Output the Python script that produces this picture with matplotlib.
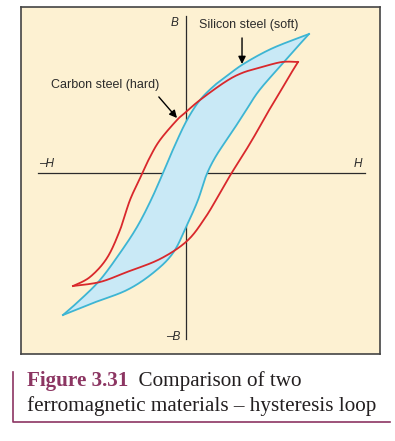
import matplotlib
matplotlib.use("Agg")
import matplotlib.pyplot as plt
import numpy as np

# silicon steel (soft) loop, H and B in arbitrary units
si_upper_H = [1.23, 0.87, 0.59, 0.42, 0.29, 0.14, 0.01, -0.11, -0.23, -0.35, -0.49, -0.66, -0.86, -1.06, -1.23]
si_upper_B = [1.39, 1.25, 1.10, 0.98, 0.88, 0.73, 0.53, 0.28, 0.00, -0.27, -0.54, -0.80, -1.07, -1.27, -1.42]
si_lower_H = [-1.23, -0.93, -0.59, -0.33, -0.13, 0.01, 0.12, 0.20, 0.30, 0.46, 0.59, 0.72, 0.89, 1.04, 1.23]
si_lower_B = [-1.42, -1.30, -1.17, -1.00, -0.80, -0.52, -0.27, -0.03, 0.17, 0.41, 0.61, 0.81, 1.01, 1.18, 1.39]

# carbon steel (hard) loop
c_upper_H = [1.12, 0.96, 0.76, 0.56, 0.39, 0.14, 0.00, -0.09, -0.26, -0.36, -0.44, -0.56, -0.66, -0.79, -0.96, -1.13]
c_upper_B = [1.11, 1.11, 1.06, 1.00, 0.91, 0.73, 0.61, 0.53, 0.33, 0.16, -0.01, -0.27, -0.57, -0.85, -1.04, -1.13]
c_lower_H = [-1.13, -0.86, -0.59, -0.26, 0.01, 0.19, 0.34, 0.45, 0.57, 0.69, 0.82, 0.94, 1.04, 1.12]
c_lower_B = [-1.13, -1.09, -0.99, -0.86, -0.68, -0.45, -0.20, -0.01, 0.18, 0.38, 0.61, 0.81, 0.98, 1.11]

caption_num = "Figure 3.31"
caption_line1 = "Comparison of two"
caption_line2 = "ferromagnetic materials \u2013 hysteresis loop"


def smooth(xs, ys, n=20):
    # catmull-rom through the points, just for drawing
    p = np.column_stack([xs, ys])
    p = np.vstack([p[0], p, p[-1]])
    out = []
    for i in range(1, len(p) - 2):
        p0, p1, p2, p3 = p[i - 1], p[i], p[i + 1], p[i + 2]
        t = np.linspace(0, 1, n, endpoint=False)[:, None]
        seg = 0.5 * ((2 * p1) + (-p0 + p2) * t + (2 * p0 - 5 * p1 + 4 * p2 - p3) * t ** 2
                     + (-p0 + 3 * p1 - 3 * p2 + p3) * t ** 3)
        out.append(seg)
    out.append(p[-2][None, :])
    out = np.vstack(out)
    return out[:, 0], out[:, 1]


blue = "#3db5d3"
blue_fill = "#c9e9f6"
red = "#d9282c"
dark = "#2b2b2b"
purple = "#8c3562"

fig = plt.figure(figsize=(3.95, 4.41), dpi=100)
ax = fig.add_axes([21 / 395, 1 - 354 / 441, 359 / 395, 347 / 441])
ax.set_facecolor("#fdf1d2")
ax.set_xlim(-1.65, 1.94)
ax.set_ylim(-1.81, 1.66)
ax.set_xticks([])
ax.set_yticks([])
for s in ax.spines.values():
    s.set_color("#444444")
    s.set_linewidth(1.2)

# axes
ax.plot([-1.48, 1.79], [0, 0], color=dark, lw=0.9, zorder=1)
ax.plot([0, 0], [-1.66, 1.57], color=dark, lw=0.9, zorder=1)

lab = dict(fontsize=8.5, style="italic", family="Liberation Sans", color=dark)
ax.text(-0.11, 1.50, "B", ha="center", va="center", **lab)
ax.text(-1.39, 0.09, "\u2013H", ha="center", va="center", **lab)
ax.text(1.72, 0.09, "H", ha="center", va="center", **lab)
ax.text(-0.13, -1.64, "\u2013B", ha="center", va="center", **lab)

# silicon loop
ux, uy = smooth(si_upper_H, si_upper_B)
lx, ly = smooth(si_lower_H, si_lower_B)
ax.fill(np.r_[ux, lx], np.r_[uy, ly], color=blue_fill, zorder=2, lw=0)
ax.plot(ux, uy, color=blue, lw=1.3, zorder=3)
ax.plot(lx, ly, color=blue, lw=1.3, zorder=3)

# carbon loop
ux, uy = smooth(c_upper_H, c_upper_B)
lx, ly = smooth(c_lower_H, c_lower_B)
ax.plot(ux, uy, color=red, lw=1.3, zorder=4)
ax.plot(lx, ly, color=red, lw=1.3, zorder=4)

# labels with arrows
ax.annotate("Silicon steel (soft)", xy=(0.56, 1.09), xytext=(0.63, 1.48),
            ha="center", va="center", fontsize=9, family="Liberation Sans", color=dark,
            arrowprops=dict(arrowstyle="-|>", color="black", lw=1, mutation_scale=11,
                            relpos=(0.43, 0.0), shrinkA=3, shrinkB=0))
ax.annotate("Carbon steel (hard)", xy=(-0.09, 0.55), xytext=(-0.81, 0.88),
            ha="center", va="center", fontsize=9, family="Liberation Sans", color=dark,
            arrowprops=dict(arrowstyle="-|>", color="black", lw=1, mutation_scale=11,
                            relpos=(0.95, 0.0), shrinkA=3, shrinkB=0))

# caption
fig.add_artist(plt.Line2D([13 / 395, 13 / 395, 390 / 395],
                          [1 - 372 / 441, 1 - 422 / 441, 1 - 422 / 441],
                          color=purple, lw=1.2))
t1 = fig.text(27 / 395, 1 - 386 / 441, caption_num, fontsize=15.2, fontweight="bold",
              family="Liberation Serif", color=purple, va="baseline")
ax.annotate("  " + caption_line1, xy=(1, 0), xycoords=t1, va="bottom", ha="left",
            fontsize=15.2, family="Liberation Serif", color="#231f20", annotation_clip=False)
fig.text(27 / 395, 1 - 411 / 441, caption_line2, fontsize=15.2,
         family="Liberation Serif", color="#231f20", va="baseline")

fig.savefig("out.png", dpi=100)
